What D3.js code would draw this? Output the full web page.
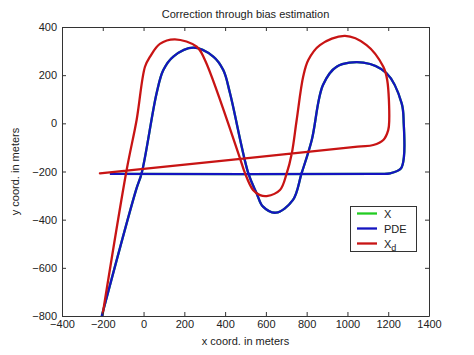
<!DOCTYPE html>
<html><head><meta charset="utf-8">
<script src="https://cdn.jsdelivr.net/npm/d3@7"></script>
<style>body{margin:0;background:#fff}svg{display:block}text{font-family:"Liberation Sans",Arial,sans-serif;fill:#222}</style>
</head><body><div id="c"></div>
<script>
const title = "Correction through bias estimation";
const xLabel = "x coord. in meters";
const yLabel = "y coord. in meters";
const xTicks = [-400,-200,0,200,400,600,800,1000,1200,1400];
const yTicks = [-800,-600,-400,-200,0,200,400];
const seriesNames = ["X","PDE","X_d"];
const seriesColors = ["#22cc22","#1414c0","#c81414"];

// PDE estimated trajectory
const pdeX = [-205,-37,-9,64,97,146,244,342,391,424,514,555,586,649,733,775,825,880,947,1078,1192,1266,1276,1277,1262,1209,1150,-165];
const pdeY = [-800,-277,-206,125,221,277,314,277,221,125,-208,-291,-346,-371,-318,-208,-69,159,235,252,208,83,0,-139,-188,-208,-210,-210];
// X (true trajectory) – hidden under PDE in the reference
const trueX = pdeX.slice();
const trueY = pdeY.slice();
// X_d trajectory
const xdX = [-200,-83,-34,7,32,80,154,261,301,473,497,537,571,604,669,702,727,751,783,808,865,988,1094,1176,1195,1205,1200,1176,1127,1050,-214];
const xdY = [-790,-194,14,235,277,330,349,318,263,-145,-206,-277,-298,-302,-277,-208,-125,14,194,263,325,363,325,235,180,14,-28,-69,-90,-97,-208];

const W=474,H=355;
const m={l:62,r:45,t:27,b:39};
const svg=d3.select("#c").append("svg").attr("width",W).attr("height",H);
const x=d3.scaleLinear().domain([-400,1400]).range([m.l,W-m.r]);
const y=d3.scaleLinear().domain([-800,400]).range([H-m.b,m.t]);

const line=d3.line().x(d=>x(d[0])).y(d=>y(d[1])).curve(d3.curveCatmullRom.alpha(0.5));
const zip=(a,b)=>a.map((v,i)=>[v,b[i]]);
const data=[zip(trueX,trueY),zip(pdeX,pdeY),zip(xdX,xdY)];

svg.append("clipPath").attr("id","cl").append("rect")
 .attr("x",m.l).attr("y",m.t).attr("width",W-m.r-m.l).attr("height",H-m.b-m.t);
const g=svg.append("g").attr("clip-path","url(#cl)");
data.forEach((d,i)=>{
  g.append("path").attr("d",line(d)).attr("fill","none").attr("stroke",seriesColors[i])
   .attr("stroke-width",2.3).attr("stroke-linejoin","round");
});

const axc="#333";
const fmt=d3.format("d");
const gb=svg.append("g").attr("transform",`translate(0,${H-m.b})`).call(d3.axisBottom(x).tickValues(xTicks).tickSizeInner(-4).tickSizeOuter(0).tickPadding(6).tickFormat(fmt));
const gt=svg.append("g").attr("transform",`translate(0,${m.t})`).call(d3.axisTop(x).tickValues(xTicks).tickSizeInner(-4).tickSizeOuter(0).tickFormat(""));
const gl=svg.append("g").attr("transform",`translate(${m.l},0)`).call(d3.axisLeft(y).tickValues(yTicks).tickSizeInner(-4).tickSizeOuter(0).tickPadding(5).tickFormat(fmt));
const gr=svg.append("g").attr("transform",`translate(${W-m.r},0)`).call(d3.axisRight(y).tickValues(yTicks).tickSizeInner(-4).tickSizeOuter(0).tickFormat(""));
[gb,gt,gl,gr].forEach(a=>{
  a.selectAll("path").attr("stroke",axc).attr("stroke-width",1);
  a.selectAll("line").attr("stroke",axc);
  a.selectAll("text").attr("font-size",11).attr("fill","#222").style("font-family","Liberation Sans, Arial, sans-serif");
});
gb.selectAll("text").attr("dy","0.55em");

svg.append("text").attr("x",(m.l+W-m.r)/2).attr("y",18).attr("text-anchor","middle").attr("font-size",11).text(title);
svg.append("text").attr("x",(m.l+W-m.r)/2).attr("y",345).attr("text-anchor","middle").attr("font-size",11).text(xLabel);
svg.append("text").attr("transform",`translate(19,${(m.t+H-m.b)/2}) rotate(-90)`).attr("text-anchor","middle").attr("font-size",11).text(yLabel);

// legend
const lg=svg.append("g");
lg.append("rect").attr("x",350.5).attr("y",206.5).attr("width",66).attr("height",45).attr("fill","#fff").attr("stroke",axc);
seriesNames.forEach((n,i)=>{
  const yy=213.5+i*15;
  lg.append("line").attr("x1",357).attr("x2",377).attr("y1",yy).attr("y2",yy).attr("stroke",seriesColors[i]).attr("stroke-width",2.3);
  const t=lg.append("text").attr("x",384).attr("y",yy+4).attr("font-size",11);
  if(n==="X_d"){t.text("X");t.append("tspan").attr("font-size",9).attr("dy",3).text("d");}
  else t.text(n);
});
</script></body></html>
